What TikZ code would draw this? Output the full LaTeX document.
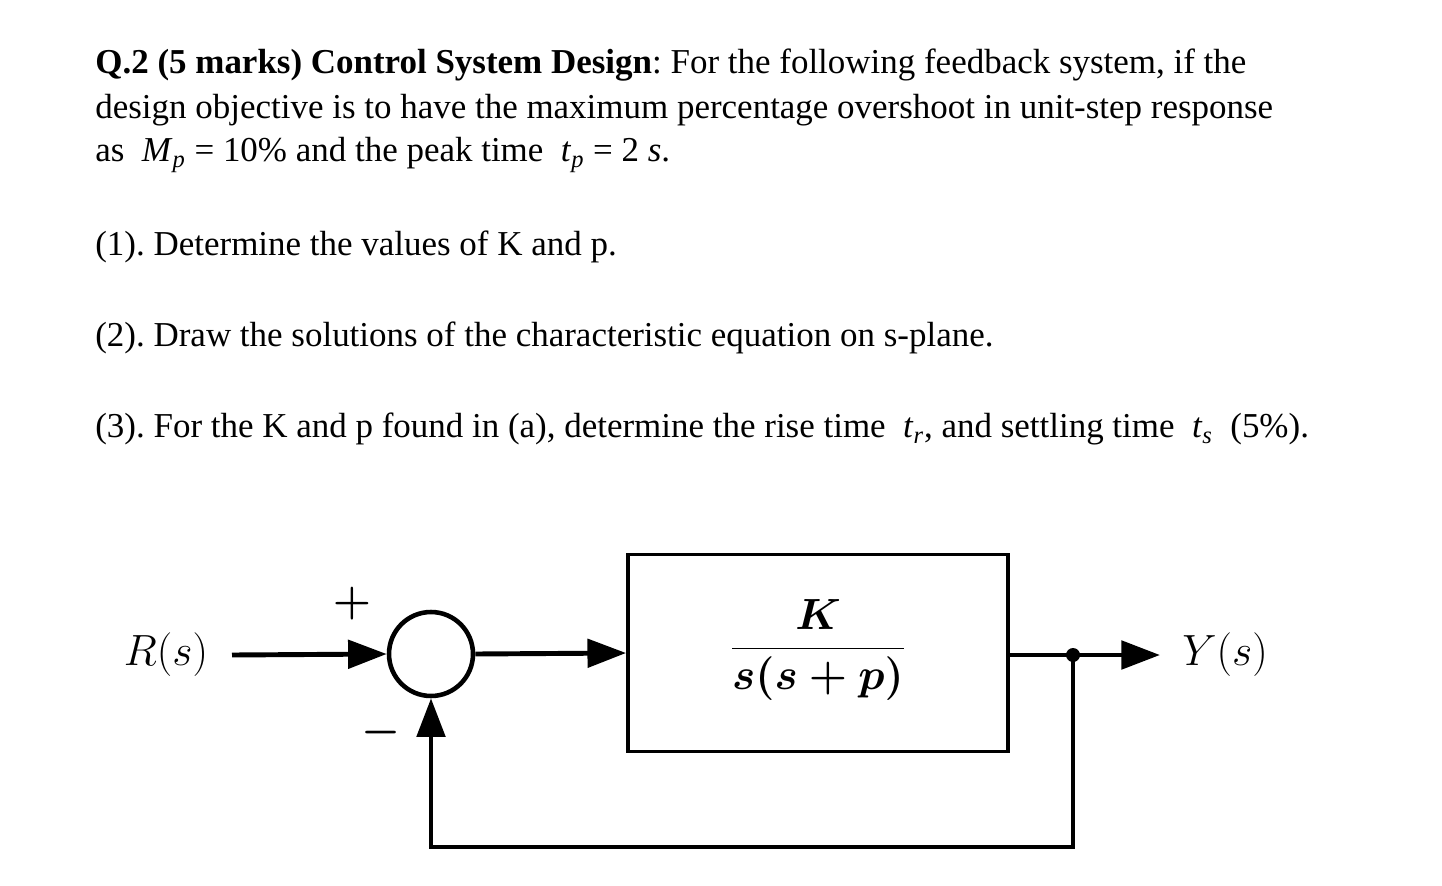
\documentclass[tikz,border=0pt]{standalone}
\usepackage{amsmath}
\usepackage{fontspec}
\setmainfont{Liberation Serif}
\usetikzlibrary{arrows.meta}
\begin{document}
\frenchspacing
\begin{tikzpicture}[x=0.02cm,y=-0.02cm,
  txt/.style={anchor=west,inner sep=0pt,font=\fontsize{19.9pt}{24pt}\selectfont},
  sig/.style={line width=2.8pt},
  arr/.style={sig,-{Triangle[length=22pt,width=16pt]}},
  lbl/.style={font=\fontsize{26pt}{30pt}\selectfont}]
\useasboundingbox (0,0) rectangle (1442,885);
\node[txt] (l1) at (95,65) {\textbf{Q.2 (5 marks) Control System Design}: For the following feedback system, if the};
\node[txt] (l2) at (95,110) {design objective is to have the maximum percentage overshoot in unit-step response};
\node[txt] (l3) at (95,155) {as~ \textit{M}\textsubscript{\textit{p}} = 10\% and the peak time~ \textit{t}\textsubscript{\textit{p}} = 2 \textit{s}.};
\node[txt] (l4) at (95,247) {(1). Determine the values of K and p.};
\node[txt] (l5) at (95,338) {(2). Draw the solutions of the characteristic equation on s-plane.};
\node[txt] (l6) at (95,429) {(3). For the K and p found in (a), determine the rise time~ \textit{t}\textsubscript{\textit{r}}, and settling time~ \textit{t}\textsubscript{\textit{s}}~ (5\%).};
\node[draw,circle,line width=2.6pt,inner sep=0pt,minimum size=1.68cm] (sum) at (431,654) {};
\node[draw,line width=2.2pt,minimum width=7.6cm,minimum height=3.94cm] (G) at (818,653) {};
\node[lbl] at (818,650) {$\displaystyle\frac{\boldsymbol{K}}{\boldsymbol{s(s+p)}}$};
\node[lbl] (R) at (166,655) {$R(s)$};
\node[lbl] (Y) at (1225,655) {$Y(s)$};
\node[lbl] (plus) at (352,604) {$\boldsymbol{+}$};
\node[lbl] (minus) at (381,733) {$\boldsymbol{-}$};
\coordinate (dot) at (1073,655);
\coordinate (c1) at (1073,847);
\coordinate (c2) at (431,847);
\draw[arr] (232,655) -- (sum.west);
\draw[arr] (sum.east) -- (G.west);
\draw[arr] (G.east |- dot) -- (1160,655);
\fill (dot) circle (7);
\draw[arr] (dot) -- (c1) -- (c2) -- (sum.south);
\end{tikzpicture}
\end{document}
